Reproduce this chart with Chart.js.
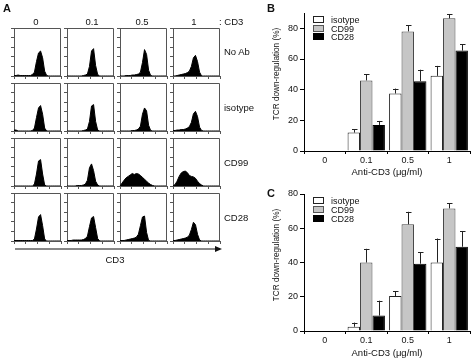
<!DOCTYPE html>
<html>
<head>
<meta charset="utf-8">
<script src="https://cdn.jsdelivr.net/npm/chart.js@4.4.0/dist/chart.umd.min.js"></script>
<style>
body{margin:0;width:474px;height:361px;position:relative;background:#fff;font-family:"Liberation Sans",Arial,sans-serif;color:#111;overflow:hidden}
canvas{position:absolute}
.t{position:absolute;font-size:9.5px;line-height:10px;white-space:nowrap}
.l{position:absolute;font-size:9px;line-height:10px;white-space:nowrap;transform:translateY(-50%)}
.c{transform:translate(-50%,-50%)}
.m{transform:translateY(-50%)}
.r{position:absolute;font-size:8.2px;line-height:9px;white-space:nowrap;transform:translate(-50%,-50%) rotate(-90deg)}
.p{position:absolute;font-size:11px;font-weight:bold;line-height:11px}
.box{position:absolute;width:11px;height:7px;box-sizing:border-box;border:1px solid #222}
</style>
</head>
<body>
<div id="wrap"></div>
<svg style="position:absolute;left:0;top:0" width="240" height="262">
  <line x1="15" y1="249" x2="216" y2="249" stroke="#111" stroke-width="1"/>
  <polygon points="215,246 222,249 215,252" fill="#111"/>
</svg>

<div class="p" style="left:3px;top:3px">A</div>
<div class="p" style="left:267px;top:3px">B</div>
<div class="p" style="left:267px;top:188px">C</div>

<div class="t c" style="left:36px;top:22px">0</div>
<div class="t c" style="left:92px;top:22px">0.1</div>
<div class="t c" style="left:142px;top:22px">0.5</div>
<div class="t c" style="left:194px;top:22px">1</div>
<div class="t m" style="left:219px;top:22px">: CD3</div>
<div class="t m" style="left:224px;top:52px">No Ab</div>
<div class="t m" style="left:224px;top:108px">isotype</div>
<div class="t m" style="left:224px;top:163px">CD99</div>
<div class="t m" style="left:224px;top:218px">CD28</div>
<div class="t c" style="left:115px;top:260px">CD3</div>

<div class="r" style="left:276px;top:74px">TCR down-regulation (%)</div>
<div class="r" style="left:276px;top:255px">TCR down-regulation (%)</div>

<div class="box" style="left:313px;top:16px;background:#fff"></div>
<div class="box" style="left:313px;top:24.5px;background:#c6c6c6;border-color:#555"></div>
<div class="box" style="left:313px;top:33px;background:#000;border-color:#000"></div>
<div class="l" style="left:331px;top:20px">isotype</div>
<div class="l" style="left:331px;top:28.5px">CD99</div>
<div class="l" style="left:331px;top:37px">CD28</div>

<div class="box" style="left:313px;top:197px;background:#fff"></div>
<div class="box" style="left:313px;top:206px;background:#c6c6c6;border-color:#555"></div>
<div class="box" style="left:313px;top:215px;background:#000;border-color:#000"></div>
<div class="l" style="left:331px;top:201px">isotype</div>
<div class="l" style="left:331px;top:210px">CD99</div>
<div class="l" style="left:331px;top:219px">CD28</div>

<script>
// doses of anti-CD3 and the three treatments
var doses = ['0', '0.1', '0.5', '1'];
var groups = ['isotype', 'CD99', 'CD28'];

// panel B, mean and upper error
var bIso = [null, 12, 37.5, 49];
var bIsoErr = [null, 2.2, 3.2, 6.5];
var bCD99 = [null, 46, 78, 86.5];
var bCD99Err = [null, 4, 4, 2.8];
var bCD28 = [null, 17, 45.5, 65.5];
var bCD28Err = [null, 2.6, 7.5, 4];

// panel C
var cIso = [null, 2.5, 20.4, 40];
var cIsoErr = [null, 2.4, 2.9, 14];
var cCD99 = [null, 40, 62.3, 71.6];
var cCD99Err = [null, 8, 7.3, 3.1];
var cCD28 = [null, 9, 39.3, 49.2];
var cCD28Err = [null, 8.7, 6.7, 9.2];

// panel A histograms, 24 bins each, one list per dose
var histNoAb = [
  [1,1,2,1,1,1,1,1,1,3,8,30,48,52,38,10,1,0,0,0,0,0,0,0],
  [0,0,0,0,0,0,0,0,1,2,4,20,52,57,22,3,0,0,0,0,0,0,0,0],
  [0,0,0,1,1,1,2,2,3,4,8,28,55,45,12,1,0,0,0,0,0,0,0,0],
  [0,0,1,2,3,4,5,7,10,20,38,43,30,8,0,0,0,0,0,0,0,0,0,0]
];
var histIsotype = [
  [2,2,0,0,0,0,0,0,0,1,6,28,48,53,35,6,0,0,0,0,0,0,0,0],
  [0,0,0,0,0,0,0,0,1,2,4,20,52,55,20,2,0,0,0,0,0,0,0,0],
  [0,0,0,0,0,0,1,1,2,4,10,35,48,42,12,1,0,0,0,0,0,0,0,0],
  [1,1,2,2,3,3,4,6,9,18,36,41,30,8,1,0,0,0,0,0,0,0,0,0]
];
var histCD99 = [
  [0,0,0,0,0,0,0,0,0,0,4,25,52,55,25,2,0,0,0,0,0,0,0,0],
  [0,0,0,0,0,1,1,1,2,4,12,38,46,32,10,2,0,0,0,0,0,0,0,0],
  [0,6,12,17,20,23,26,24,26,25,22,18,14,10,6,3,1,0,0,0,0,0,0,0],
  [0,3,10,20,27,30,31,28,22,20,19,16,10,5,2,0,0,0,0,0,0,0,0,0]
];
var histCD28 = [
  [1,1,1,1,1,1,1,1,1,1,4,25,50,55,32,4,0,0,0,0,0,0,0,0],
  [1,1,1,2,2,2,2,2,3,5,10,30,48,51,28,5,0,0,0,0,0,0,0,0],
  [1,1,1,2,3,4,5,6,8,14,32,50,52,18,1,0,0,0,0,0,0,0,0,0],
  [1,1,2,3,4,5,6,8,12,24,39,34,14,2,0,0,0,0,0,0,0,0,0,0]
];

Chart.defaults.font.family = '"Liberation Sans", Arial, sans-serif';
Chart.defaults.color = '#111';

function makeCanvas(left, top, w, h) {
  var c = document.createElement('canvas');
  c.width = w; c.height = h;
  c.style.left = left + 'px';
  c.style.top = top + 'px';
  document.getElementById('wrap').appendChild(c);
  return c;
}

var frame = {
  id: 'frame',
  afterDraw: function(chart) {
    var a = chart.chartArea, ctx = chart.ctx;
    ctx.save();
    ctx.strokeStyle = '#555';
    ctx.lineWidth = 1;
    ctx.beginPath();
    ctx.moveTo(Math.round(a.left) + 0.5, Math.round(a.top) + 0.5);
    ctx.lineTo(Math.round(a.right) - 0.5, Math.round(a.top) + 0.5);
    ctx.lineTo(Math.round(a.right) - 0.5, Math.round(a.bottom));
    ctx.stroke();
    ctx.restore();
  }
};

var binLabels = histNoAb[0].map(function(v, i) { return i; });
var boxLeft = [14, 67, 120, 173];
var boxTop = [28, 83, 138, 193];
var rows = [histNoAb, histIsotype, histCD99, histCD28];

rows.forEach(function(row, r) {
  row.forEach(function(vals, k) {
    var cv = makeCanvas(boxLeft[k] - 4, boxTop[r] - 1, 52, 53);
    new Chart(cv, {
      type: 'line',
      data: {
        labels: binLabels,
        datasets: [{
          data: vals,
          borderColor: '#000',
          borderWidth: 1,
          backgroundColor: '#000',
          fill: 'origin',
          pointRadius: 0,
          tension: 0
        }]
      },
      options: {
        responsive: false,
        animation: false,
        events: [],
        layout: { padding: { top: 1, right: 1, left: 0, bottom: 0 } },
        plugins: { legend: { display: false }, tooltip: { enabled: false } },
        scales: {
          x: { display: false },
          x2: {
            type: 'linear', position: 'bottom', min: 0, max: 4,
            ticks: { display: false, stepSize: 1 },
            grid: { drawOnChartArea: false, tickLength: 3, tickColor: '#555' },
            border: { color: '#555' },
            afterFit: function(s) { s.height = 4; }
          },
          y: {
            min: 0, max: 100,
            ticks: { display: false, stepSize: 20 },
            grid: { drawOnChartArea: false, tickLength: 3, tickColor: '#555' },
            border: { color: '#555' },
            afterFit: function(s) { s.width = 4; }
          }
        }
      },
      plugins: [frame]
    });
  });
});

var errorBars = {
  id: 'errorBars',
  afterDatasetsDraw: function(chart) {
    var ctx = chart.ctx, y = chart.scales.y;
    chart.data.datasets.forEach(function(ds, i) {
      var meta = chart.getDatasetMeta(i);
      meta.data.forEach(function(bar, j) {
        if (ds.data[j] == null) return;
        var x = Math.round(bar.x) + 0.5;
        var top = y.getPixelForValue(ds.data[j] + ds.err[j]);
        ctx.save();
        ctx.strokeStyle = '#222';
        ctx.lineWidth = 1;
        ctx.beginPath();
        ctx.moveTo(x, bar.y);
        ctx.lineTo(x, top);
        ctx.moveTo(x - 2.5, Math.round(top) + 0.5);
        ctx.lineTo(x + 3, Math.round(top) + 0.5);
        ctx.stroke();
        ctx.restore();
      });
    });
  }
};

function barChart(top, h, padTop, xHeight, ymax, iso, isoErr, c99, c99Err, c28, c28Err) {
  var cv = makeCanvas(270, top, 204, h);
  new Chart(cv, {
    type: 'bar',
    data: {
      labels: doses,
      datasets: [
        { label: groups[0], data: iso, err: isoErr, backgroundColor: '#fff', borderColor: '#222', borderWidth: 1 },
        { label: groups[1], data: c99, err: c99Err, backgroundColor: '#c6c6c6', borderColor: '#444', borderWidth: 1 },
        { label: groups[2], data: c28, err: c28Err, backgroundColor: '#000', borderColor: '#000', borderWidth: 1 }
      ]
    },
    options: {
      responsive: false,
      animation: false,
      events: [],
      datasets: { bar: { categoryPercentage: 0.9, barPercentage: 1 } },
      layout: { padding: { top: padTop, right: 4, left: 0, bottom: 0 } },
      plugins: { legend: { display: false }, tooltip: { enabled: false } },
      scales: {
        x: {
          offset: true,
          grid: { offset: true, drawOnChartArea: false, tickLength: 3, tickColor: '#000' },
          border: { color: '#000' },
          ticks: { font: { size: 9 }, padding: 1 },
          title: { display: true, text: 'Anti-CD3 (μg/ml)', font: { size: 9.5 }, padding: { top: 0, bottom: 2 } },
          afterFit: function(s) { s.height = xHeight; }
        },
        y: {
          min: 0, max: ymax,
          ticks: { stepSize: 20, includeBounds: false, font: { size: 9 }, padding: 2 },
          grid: { drawOnChartArea: false, tickLength: 4, tickColor: '#000' },
          border: { color: '#000' },
          afterFit: function(s) { s.width = 34; }
        }
      }
    },
    plugins: [errorBars]
  });
}

barChart(0, 180, 13, 29, 90, bIso, bIsoErr, bCD99, bCD99Err, bCD28, bCD28Err);
barChart(180, 181, 14, 30, 80, cIso, cIsoErr, cCD99, cCD99Err, cCD28, cCD28Err);
</script>
</body>
</html>
